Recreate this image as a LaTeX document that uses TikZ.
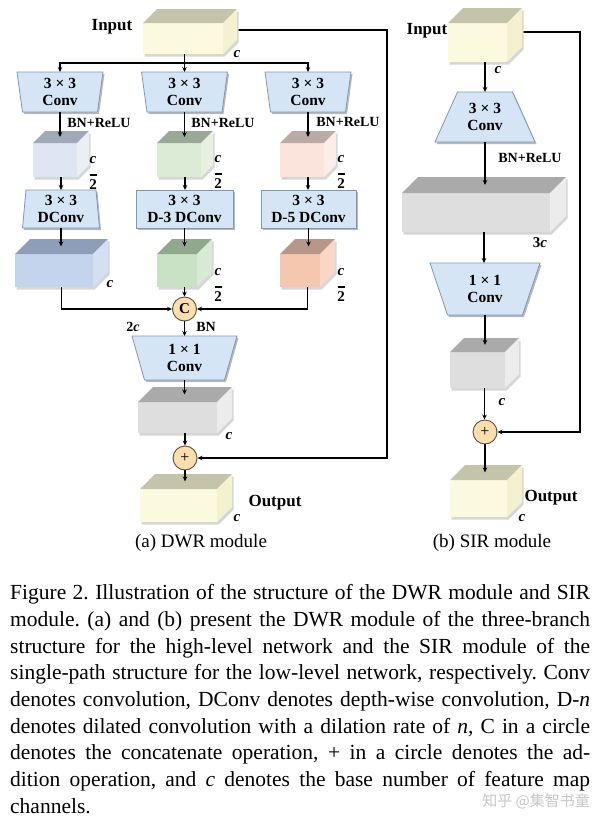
\documentclass[tikz,border=0pt]{standalone}
\usepackage{fontspec}
\setmainfont{Liberation Serif}
\newfontfamily\cjkfont{Noto Sans CJK SC}
\usetikzlibrary{arrows.meta,calc,backgrounds}
\frenchspacing

\definecolor{convfill}{HTML}{D5E5F5}
\definecolor{convedge}{HTML}{7F98B6}
\definecolor{circfill}{HTML}{FCDDAD}
\definecolor{circedge}{HTML}{5C5040}
\definecolor{yelF}{HTML}{FBF9DE}\definecolor{yelT}{HTML}{C4C4AA}\definecolor{yelS}{HTML}{F3F1D0}
\definecolor{sbluF}{HTML}{DEE6F3}\definecolor{sbluT}{HTML}{A2A9B6}\definecolor{sbluS}{HTML}{EAEFF7}
\definecolor{sgrnF}{HTML}{DCEBD6}\definecolor{sgrnT}{HTML}{9BA898}\definecolor{sgrnS}{HTML}{E7F0E2}
\definecolor{spnkF}{HTML}{FBE4DB}\definecolor{spnkT}{HTML}{BAABA7}\definecolor{spnkS}{HTML}{FCEDE7}
\definecolor{bbluF}{HTML}{C4D4EC}\definecolor{bbluT}{HTML}{8F9EB8}\definecolor{bbluS}{HTML}{D4DFF1}
\definecolor{bgrnF}{HTML}{C9E2C6}\definecolor{bgrnT}{HTML}{90A98C}\definecolor{bgrnS}{HTML}{D8EAD5}
\definecolor{bslmF}{HTML}{F6C7AF}\definecolor{bslmT}{HTML}{B5988B}\definecolor{bslmS}{HTML}{F9D7C6}
\definecolor{gryF}{HTML}{DEDEDE}\definecolor{gryT}{HTML}{AAAAAA}\definecolor{gryS}{HTML}{ECECEC}

\tikzset{
  arr/.style={line width=1.1pt, -{Stealth[length=5pt,width=4.5pt]}},
  ln/.style={line width=1.1pt},
  cubefront/.style={rectangle, inner sep=0pt, outer sep=0pt},
  cubeshadow/.style={fill=black!16},
  convtext/.style={inner sep=0pt, outer sep=0pt, align=center,
    font=\bfseries\fontsize{15.5}{17}\selectfont, minimum width=10pt},
  convshape/.style={fill=convfill, draw=convedge, line width=0.8pt},
  convshadow/.style={fill=black!28},
  lbl/.style={font=\bfseries\fontsize{14}{14}\selectfont, inner sep=0pt},
  clbl/.style={font=\bfseries\itshape\fontsize{15}{15}\selectfont, inner sep=0pt},
  fraclbl/.style={font=\bfseries\fontsize{15}{15}\selectfont, inner sep=0pt, align=center},
  iolbl/.style={font=\bfseries\fontsize{17}{17}\selectfont, inner sep=0pt},
  sublbl/.style={font=\fontsize{19}{19}\selectfont, inner sep=0pt},
  opcirc/.style={circle, draw=circedge, fill=circfill, line width=0.9pt,
    minimum size=24pt, inner sep=0pt},
}

% name, x, y (front top-left), w, h, d, front, top, side
\newcommand{\cubeblk}[9]{%
  \fill[cubeshadow] ({#2+1.5},{#3+2.5}) -- ({#2+#4+#6+1.5},{#3-#6+2.5})
     -- ({#2+#4+#6+1.5},{#3+#5-#6+2.5}) -- ({#2+#4+1.5},{#3+#5+2.5})
     -- ({#2+1.5},{#3+#5+2.5}) -- cycle;
  \node[cubefront, fill=#7, minimum width=#4pt, minimum height=#5pt, anchor=north west] (#1) at (#2,#3) {};
  \fill[#8] (#1.north west) -- ++(#6,-#6) -- ++(#4,0) -- (#1.north east) -- cycle;
  \fill[#9] (#1.north east) -- ++(#6,-#6) -- ++(0,#5) -- (#1.south east) -- cycle;
  \coordinate (#1-t) at ($(#1.north)+(#6/2,-#6/2)$);
  \coordinate (#1-b) at ($(#1.south)+(#6/2,0)$);
}
% name, cx, cy, topw, botw, h, text
\newcommand{\trapbox}[7]{%
  \fill[convshadow] ({#2-#4/2+1.5},{#3-#6/2+2}) -- ({#2+#4/2+1.5},{#3-#6/2+2})
     -- ({#2+#5/2+1.5},{#3+#6/2+2}) -- ({#2-#5/2+1.5},{#3+#6/2+2}) -- cycle;
  \filldraw[convshape] ({#2-#4/2},{#3-#6/2}) -- ({#2+#4/2},{#3-#6/2})
     -- ({#2+#5/2},{#3+#6/2}) -- ({#2-#5/2},{#3+#6/2}) -- cycle;
  \node[convtext, minimum height=#6pt] (#1) at (#2,#3) {#7};
}
\newcommand{\halfc}{\textit{c}\\[-3pt]\rule{7pt}{1.5pt}\\[-1pt]2}

\begin{document}
\begin{tikzpicture}[x=1pt,y=-1pt]
\useasboundingbox (0,0) rectangle (600,822);

% ================= DWR module =================
\node[iolbl] (inAlbl) at (112,27) {Input};
\cubeblk{inA}{143}{23}{80}{31}{14}{yelF}{yelT}{yelS}
\node[clbl] (inAc) at (237,54) {c};
\coordinate (br) at (184.5,63);

\trapbox{c1}{60}{92}{86}{75}{40}{3 × 3\\Conv}
\trapbox{c2}{184.5}{92}{86}{75}{40}{3 × 3\\Conv}
\trapbox{c3}{308}{92}{86}{75}{40}{3 × 3\\Conv}
\node[lbl] (bn1) at (99,123) {BN+ReLU};
\node[lbl] (bn2) at (223,123) {BN+ReLU};
\node[lbl] (bn3) at (348,122) {BN+ReLU};

\cubeblk{s1}{33}{143}{44}{34}{12}{sbluF}{sbluT}{sbluS}
\cubeblk{s2}{157}{143}{44}{34}{12}{sgrnF}{sgrnT}{sgrnS}
\cubeblk{s3}{280}{143}{44}{34}{12}{spnkF}{spnkT}{spnkS}
\node[fraclbl] (s1c) at (93,173) {\halfc};
\node[fraclbl] (s2c) at (218,172) {\halfc};
\node[fraclbl] (s3c) at (341,172) {\halfc};

\trapbox{d1}{61}{209}{70}{77}{38}{3 × 3\\DConv}
\trapbox{d2}{184.5}{209}{97}{97}{38}{3 × 3\\D-3 DConv}
\trapbox{d3}{308.5}{209}{95}{95}{38}{3 × 3\\D-5 DConv}

\cubeblk{b1}{15}{254}{78}{33}{15}{bbluF}{bbluT}{bbluS}
\cubeblk{b2}{157}{254}{40}{33}{15}{bgrnF}{bgrnT}{bgrnS}
\cubeblk{b3}{280}{254}{40}{33}{15}{bslmF}{bslmT}{bslmS}
\node[clbl] (b1c) at (110,284) {c};
\node[fraclbl] (b2c) at (218,285) {\halfc};
\node[fraclbl] (b3c) at (341,285) {\halfc};

\node[opcirc, font=\bfseries\fontsize{15}{15}\selectfont] (cat) at (184.5,309) {C};
\node[lbl] (lbl2c) at (133,327) {2\textit{c}};
\node[lbl] (lblbn) at (206,327) {BN};

\trapbox{p1}{184.5}{358}{105}{80}{44}{1 × 1\\Conv}
\cubeblk{g1}{138}{402}{79}{31}{15}{gryF}{gryT}{gryS}
\node[clbl] (g1c) at (229,436) {c};
\node[opcirc, font=\fontsize{16}{16}\selectfont] (plusA) at (185,458) {+};
\cubeblk{oA}{140}{489}{77}{33}{15}{yelF}{yelT}{yelS}
\node[iolbl] (oAlbl) at (275,503) {Output};
\node[clbl] (oAc) at (237,518) {c};
\node[sublbl] (subA) at (201,543) {(a) DWR module};

% ================= SIR module =================
\node[iolbl] (inBlbl) at (427,31) {Input};
\cubeblk{inB}{448}{23}{59}{39}{15}{yelF}{yelT}{yelS}
\node[clbl] (inBc) at (498,70) {c};
\trapbox{cb}{485}{117}{55}{100}{50}{3 × 3\\Conv}
\node[lbl] (bnB) at (530,158) {BN+ReLU};
\cubeblk{bigB}{402}{193}{148}{39}{16}{gryF}{gryT}{gryS}
\node[clbl] (bigBc) at (540,243) {\upshape 3\itshape c};
\trapbox{pb}{485}{289}{110}{75}{52}{1 × 1\\Conv}
\cubeblk{gB}{450}{352}{55}{36}{14}{gryF}{gryT}{gryS}
\node[clbl] (gBc) at (502,402) {c};
\node[opcirc, font=\fontsize{16}{16}\selectfont] (plusB) at (485,432) {+};
\cubeblk{oB}{450}{480}{57}{37}{15}{yelF}{yelT}{yelS}
\node[iolbl] (oBlbl) at (551,498) {Output};
\node[clbl] (oBc) at (522,518) {c};
\node[sublbl] (subB) at (492,543) {(b) SIR module};

% ================= connectors =================
\coordinate (skipA) at (387,30);
\coordinate (skipB) at (580,32);
\begin{scope}[on background layer]
  \fill[white] (0,0) rectangle (600,822);
  \draw[arr] (inA.center |- skipA) -- (skipA) |- (plusA);
  \draw[arr] (inB.center |- skipB) -- (skipB) |- (plusB);
\end{scope}

\draw[ln] (inA.south -| br) -- (br);
\draw[arr] (br) -| (c1.north);
\draw[arr] (br) -- (c2.north);
\draw[arr] (br) -| (c3.north);
\draw[arr] (c1.south) -- (c1.south |- s1-t);
\draw[arr] (c2.south) -- (c2.south |- s2-t);
\draw[arr] (c3.south) -- (c3.south |- s3-t);
\draw[arr] (s1-b) -- (s1-b |- d1.north);
\draw[arr] (s2-b) -- (s2-b |- d2.north);
\draw[arr] (s3-b) -- (s3-b |- d3.north);
\draw[arr] (d1.south) -- (d1.south |- b1-t);
\draw[arr] (d2.south) -- (d2.south |- b2-t);
\draw[arr] (d3.south) -- (d3.south |- b3-t);
\draw[arr] (b1-b) |- (cat);
\draw[arr] (b2-b) -- (cat);
\draw[arr] (b3-b) |- (cat);
\draw[arr] (cat) -- (cat |- p1.north);
\draw[arr] (p1.south) -- (p1.south |- g1-t);
\draw[arr] (g1-b) -- (g1-b |- plusA.north);
\draw[arr] (plusA) -- (plusA |- oA-t);

\draw[arr] (inB-b) -- (inB-b |- cb.north);
\draw[arr] (cb.south) -- (cb.south |- bigB-t);
\draw[arr] (bigB-b) -- (bigB-b |- pb.north);
\draw[arr] (pb.south) -- (pb.south |- gB-t);
\draw[arr] (gB-b) -- (gB-b |- plusB.north);
\draw[arr] (plusB) -- (plusB |- oB-t);

% ================= caption =================
\node[anchor=north west, inner sep=0pt, text width=580pt, align=justify,
      font=\fontsize{21.5}{26.7}\selectfont] (caption) at (10,584.3)
{Figure 2. Illustration of the structure of the DWR module and SIR\linebreak
module. (a) and (b) present the DWR module of the three-branch\linebreak
structure for the high-level network and the SIR module of the\linebreak
single-path structure for the low-level network, respectively. Conv\linebreak
denotes convolution, DConv denotes depth-wise convolution, D-\textit{n}\linebreak
denotes dilated convolution with a dilation rate of \textit{n}, C in a circle\linebreak
denotes the concatenate operation, + in a circle denotes the ad-\linebreak
dition operation, and \textit{c} denotes the base number of feature map\linebreak
channels.};
\node[anchor=east, inner sep=0pt, text=black!22, font=\cjkfont\fontsize{15}{15}\selectfont] (wm) at (590,801) {知乎 @集智书童};
\end{tikzpicture}
\end{document}
